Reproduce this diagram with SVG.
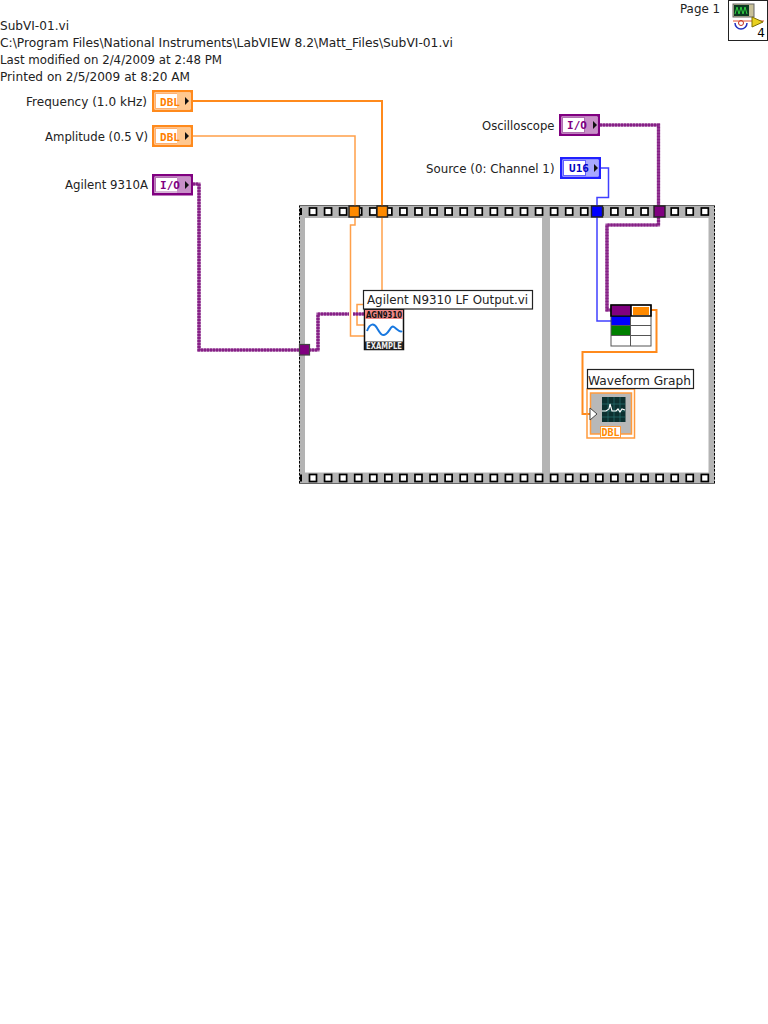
<svg xmlns="http://www.w3.org/2000/svg" xmlns:xlink="http://www.w3.org/1999/xlink" width="768" height="1024" viewBox="0 0 768 1024">
<defs>
<style>
text{font-family:"DejaVu Sans","Noto Sans",sans-serif;font-size:12px;fill:#222}
.w{fill:none;stroke-linejoin:miter}
.o1{stroke:#ffa04a;stroke-width:1.5}
.o2{stroke:#ff8a1c;stroke-width:2}
.b{stroke:#4040ff;stroke-width:1.5}
.p{stroke:#a050a0;stroke-width:3.2}
.pd{stroke:#862086;stroke-width:3.2;stroke-dasharray:2 1}
.lab{fill:#fff;stroke:#222;stroke-width:1.2}
.t{font-family:"DejaVu Sans Mono","Liberation Mono",monospace;font-size:11px;font-weight:bold;text-anchor:middle}
.hole{fill:#fff;stroke:#000;stroke-width:1.7}
.tun{stroke:#222;stroke-width:1.4}
.arrow{fill:#111}
</style>
<g id="row">
<rect x="309.500" y="0" width="7" height="7" class="hole"/><rect x="324.570" y="0" width="7" height="7" class="hole"/><rect x="339.640" y="0" width="7" height="7" class="hole"/><rect x="354.710" y="0" width="7" height="7" class="hole"/><rect x="369.780" y="0" width="7" height="7" class="hole"/><rect x="384.850" y="0" width="7" height="7" class="hole"/><rect x="399.920" y="0" width="7" height="7" class="hole"/><rect x="414.990" y="0" width="7" height="7" class="hole"/><rect x="430.060" y="0" width="7" height="7" class="hole"/><rect x="445.130" y="0" width="7" height="7" class="hole"/><rect x="460.200" y="0" width="7" height="7" class="hole"/><rect x="475.270" y="0" width="7" height="7" class="hole"/><rect x="490.340" y="0" width="7" height="7" class="hole"/><rect x="505.410" y="0" width="7" height="7" class="hole"/><rect x="520.480" y="0" width="7" height="7" class="hole"/><rect x="535.550" y="0" width="7" height="7" class="hole"/><rect x="550.620" y="0" width="7" height="7" class="hole"/><rect x="565.690" y="0" width="7" height="7" class="hole"/><rect x="580.760" y="0" width="7" height="7" class="hole"/><rect x="595.830" y="0" width="7" height="7" class="hole"/><rect x="610.900" y="0" width="7" height="7" class="hole"/><rect x="625.970" y="0" width="7" height="7" class="hole"/><rect x="641.040" y="0" width="7" height="7" class="hole"/><rect x="656.110" y="0" width="7" height="7" class="hole"/><rect x="671.180" y="0" width="7" height="7" class="hole"/><rect x="686.250" y="0" width="7" height="7" class="hole"/><rect x="701.320" y="0" width="7" height="7" class="hole"/>
<path d="M301 0V7" stroke="#000" stroke-width="2" fill="none"/>
</g>
<path id="pw" d="M193 184H199V350H300M309 350H318V314H349M353 314H365M600 125H658.500V206M658.500 217V225H607V310H611"/>
</defs>
<rect width="768" height="1024" fill="#fff"/>
<g id="header">
<text x="0" y="30" textLength="69" lengthAdjust="spacingAndGlyphs">SubVI-01.vi</text>
<text x="0" y="47" textLength="453" lengthAdjust="spacingAndGlyphs">C:\Program Files\National Instruments\LabVIEW 8.2\Matt_Files\SubVI-01.vi</text>
<text x="0" y="64" textLength="222" lengthAdjust="spacingAndGlyphs">Last modified on 2/4/2009 at 2:48 PM</text>
<text x="0" y="81" textLength="190" lengthAdjust="spacingAndGlyphs">Printed on 2/5/2009 at 8:20 AM</text>
<text x="680" y="13" textLength="40" lengthAdjust="spacingAndGlyphs">Page 1</text>
</g>
<g id="vi-icon">
<rect x="728.500" y="0.500" width="39" height="40" fill="#fff" stroke="#222"/>
<rect x="733" y="4" width="21" height="13" fill="#c8c098" stroke="#666"/>
<rect x="734" y="5" width="15" height="11" fill="#0a3a20"/>
<path d="M735 14l2-7 2 7 2-7 2 7 2-7 2 7" fill="none" stroke="#30d040"/>
<path d="M733 21h31" stroke="#e05030" fill="none"/>
<path d="M735 23a6 6 0 0 0 12 0" fill="none" stroke="#2030c0" stroke-width="1.5"/>
<circle cx="741" cy="23" r="2.500" fill="none" stroke="#c03020"/>
<path d="M752 17l11 5-11 5z" fill="#e8d020" stroke="#807000"/>
<text x="761" y="37" style="font-size:12px;fill:#000" text-anchor="middle">4</text>
</g>
<g id="frame">
<rect x="299" y="205" width="416" height="279" fill="#b4b4b4"/>
<rect x="305" y="218" width="237" height="254.500" fill="#fff"/>
<rect x="550" y="218" width="158.500" height="254.500" fill="#fff"/>
<path d="M299.500 205V484M714.500 205V484" stroke="#000" stroke-width="1" stroke-dasharray="2.500 1.500" fill="none"/>
<path d="M299 205.500H715M299 483.500H715" stroke="#666" fill="none"/>
<use href="#row" xlink:href="#row" y="208"/>
<use href="#row" xlink:href="#row" y="474.500"/>
</g>
<g id="connectors">
<path class="w o2" d="M193 101H382V206"/>
<path class="w o1" d="M382 217V291"/>
<path class="w o1" d="M364 304.500H357V325H365"/>
<path class="w o1" d="M193 136H355V206"/>
<path class="w o1" d="M355 217V225H350.500V336H365"/>
<use href="#pw" xlink:href="#pw" class="w p"/>
<use href="#pw" xlink:href="#pw" class="w pd"/>
<path class="w b" d="M601 168H608.500V197.500H597V206"/>
<path class="w b" d="M597 217V321H611"/>
<path class="w o2" d="M651 310H656.500V352H582.500V414H590"/>
</g>
<g id="tunnels">
<rect x="349" y="206" width="10.500" height="11" fill="#ff8a00" class="tun"/>
<rect x="377" y="206" width="10.500" height="11" fill="#ff8a00" class="tun"/>
<rect x="591.500" y="206" width="11" height="11" fill="#0000ff" class="tun"/>
<rect x="654" y="206" width="11" height="11" fill="#800080" class="tun"/>
<rect x="299.500" y="344.500" width="10" height="10.500" fill="#800080" stroke="#444" stroke-width="1.2"/>
</g>
<g id="terminal-frequency">
<rect x="153.250" y="91.250" width="38.500" height="19.500" fill="#fff" stroke="#ff8a1c" stroke-width="2.500"/>
<rect x="155.500" y="93.500" width="22" height="15" fill="none" stroke="#ffb070"/>
<rect x="177" y="93" width="13.500" height="16" fill="#ffc890"/>
<text x="170" y="105.500" class="t" style="fill:#ff8000">DBL</text>
<path d="M185 97l4 4-4 4z" class="arrow"/>
<text x="26" y="106" textLength="121" lengthAdjust="spacingAndGlyphs">Frequency (1.0 kHz)</text>
</g>
<g id="terminal-amplitude">
<rect x="153.250" y="126.250" width="38.500" height="19.500" fill="#fff" stroke="#ff8a1c" stroke-width="2.500"/>
<rect x="155.500" y="128.500" width="22" height="15" fill="none" stroke="#ffb070"/>
<rect x="177" y="128" width="13.500" height="16" fill="#ffc890"/>
<text x="170" y="140.500" class="t" style="fill:#ff8000">DBL</text>
<path d="M185 132l4 4-4 4z" class="arrow"/>
<text x="45" y="141" textLength="103" lengthAdjust="spacingAndGlyphs">Amplitude (0.5 V)</text>
</g>
<g id="terminal-agilent">
<rect x="153.250" y="175.250" width="38.500" height="19" fill="#fff" stroke="#800080" stroke-width="2.500"/>
<rect x="155.500" y="177.500" width="22" height="14.500" fill="none" stroke="#b070b0"/>
<rect x="177" y="177" width="13.500" height="16" fill="#c890c8"/>
<text x="170" y="189" class="t" style="fill:#800080">I/O</text>
<path d="M185 181l4 4-4 4z" class="arrow"/>
<text x="65" y="189" textLength="83" lengthAdjust="spacingAndGlyphs">Agilent 9310A</text>
</g>
<g id="terminal-oscilloscope">
<rect x="560.250" y="115.250" width="38.500" height="19.500" fill="#fff" stroke="#800080" stroke-width="2.500"/>
<rect x="562.500" y="117.500" width="22" height="15" fill="none" stroke="#b070b0"/>
<rect x="585" y="117" width="12.500" height="16" fill="#c890c8"/>
<text x="577" y="129" class="t" style="fill:#800080">I/O</text>
<path d="M593 121l4 4-4 4z" class="arrow"/>
<text x="482" y="130" textLength="72.500" lengthAdjust="spacingAndGlyphs">Oscilloscope</text>
</g>
<g id="terminal-source">
<rect x="561.250" y="158.250" width="38.500" height="19.500" fill="#fff" stroke="#2020ff" stroke-width="2.500"/>
<rect x="563.500" y="160.500" width="22" height="15" fill="none" stroke="#6060ff"/>
<rect x="586" y="160" width="12.500" height="16" fill="#a8a8ff"/>
<text x="579" y="172" class="t" style="fill:#0000c0">U16</text>
<path d="M594 164l4 4-4 4z" class="arrow"/>
<text x="426" y="173" textLength="128.500" lengthAdjust="spacingAndGlyphs">Source (0: Channel 1)</text>
</g>
<g id="subvi">
<rect x="364.500" y="309.500" width="39" height="40" fill="#fff" stroke="#111" stroke-width="1.500"/>
<rect x="365" y="310" width="38" height="9" fill="#f08888"/>
<text x="384" y="317.500" text-anchor="middle" style="font-size:8px;font-weight:bold;fill:#111" textLength="36" lengthAdjust="spacingAndGlyphs">AGN9310</text>
<path d="M367 331c3-8 7-8 10-3s5 9 9 6 5-9 8-7 6 6 8 4" fill="none" stroke="#1878e0" stroke-width="2"/>
<rect x="365" y="341.500" width="38" height="8" fill="#222"/>
<text x="384" y="348.500" text-anchor="middle" style="font-size:8px;font-weight:bold;fill:#eee" textLength="36" lengthAdjust="spacingAndGlyphs">EXAMPLE</text>
<rect x="363.500" y="290.500" width="169" height="18.500" class="lab"/>
<text x="367" y="304" textLength="161" lengthAdjust="spacingAndGlyphs">Agilent N9310 LF Output.vi</text>
</g>
<g id="cluster">
<rect x="611" y="305" width="40" height="41" fill="#fff"/>
<rect x="611" y="305" width="20" height="10.500" fill="#800080"/>
<rect x="611" y="316" width="20" height="10" fill="#0000ff"/>
<rect x="611" y="326" width="20" height="10" fill="#008000"/>
<rect x="633" y="307" width="16" height="8" fill="#ff8a00"/>
<path d="M611 325.500H651M611 335.500H651M630.500 316V346" stroke="#555" fill="none"/>
<rect x="611" y="305" width="40" height="41" fill="none" stroke="#555"/>
<path d="M611 305H651V316H611ZM631 305V316" stroke="#000" stroke-width="1.600" fill="none"/>
</g>
<g id="graph">
<rect x="587" y="389" width="47.500" height="49" fill="none" stroke="#ff9a3c" stroke-width="1.500"/>
<rect x="590.500" y="393" width="41" height="41" fill="#b8b8b8" stroke="#ff9a3c" stroke-width="1.500"/>
<rect x="602" y="397" width="23.500" height="25" fill="#0c3030"/>
<path d="M602 404h23M602 411h23M602 417h23M608 397v25M614 397v25M620 397v25" stroke="#2a7070" stroke-width="0.700" fill="none"/>
<path d="M602 411h4l3-2 1-5 2 7h4l2-2 2 3 2-3 3 1" fill="none" stroke="#fff" stroke-width="1.200"/>
<path d="M590 408l7 6-7 6z" fill="#fff" stroke="#444"/>
<rect x="600.500" y="426.500" width="20" height="11" fill="#fff" stroke="#ff9a3c"/>
<text x="610.500" y="436" text-anchor="middle" style="font-family:'DejaVu Sans Mono',monospace;font-size:10px;font-weight:bold;fill:#ff8a00">DBL</text>
<rect x="587.500" y="369.500" width="106" height="19" class="lab"/>
<text x="588" y="385" textLength="103" lengthAdjust="spacingAndGlyphs">Waveform Graph</text>
</g>
</svg>
